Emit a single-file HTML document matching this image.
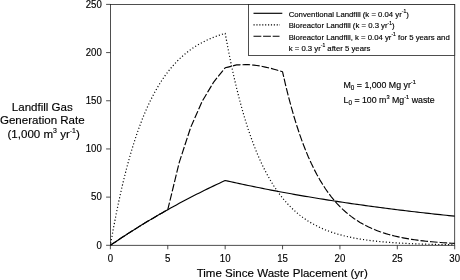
<!DOCTYPE html>
<html><head><meta charset="utf-8"><title>Landfill Gas Generation Rate</title>
<style>
html,body{margin:0;padding:0;background:#fff;}
svg{display:block;font-family:"Liberation Sans",Arial,sans-serif;fill:#000;}
.ax line,.ax rect{stroke:#222;stroke-width:0.8;fill:none;}
.tk text{font-size:10.2px;}
.lg text{font-size:7.75px;}
.an text{font-size:8.8px;}
.yt text{font-size:11.55px;}
.sup{font-size:64%;}
.sub{font-size:72%;}
.sup2{font-size:60%;}
text{stroke:#000;stroke-width:0.15px;}
</style></head><body>
<svg width="460" height="280" viewBox="0 0 460 280">
<rect width="460" height="280" fill="#fff"/>
<g class="ax">
<rect x="110.4" y="4.4" width="344.29999999999995" height="240.9"/>
<line x1="106.10" y1="245.30" x2="110.40" y2="245.30"/><line x1="106.10" y1="197.12" x2="110.40" y2="197.12"/><line x1="106.10" y1="148.94" x2="110.40" y2="148.94"/><line x1="106.10" y1="100.76" x2="110.40" y2="100.76"/><line x1="106.10" y1="52.58" x2="110.40" y2="52.58"/><line x1="106.10" y1="4.40" x2="110.40" y2="4.40"/><line x1="110.40" y1="245.30" x2="110.40" y2="249.30"/><line x1="167.78" y1="245.30" x2="167.78" y2="249.30"/><line x1="225.17" y1="245.30" x2="225.17" y2="249.30"/><line x1="282.55" y1="245.30" x2="282.55" y2="249.30"/><line x1="339.93" y1="245.30" x2="339.93" y2="249.30"/><line x1="397.32" y1="245.30" x2="397.32" y2="249.30"/><line x1="454.70" y1="245.30" x2="454.70" y2="249.30"/>
</g>
<g fill="none" stroke="#000" stroke-width="1.15" stroke-linejoin="round">
<path d="M110.40,245.30 L113.27,243.34 L116.14,241.41 L119.01,239.49 L121.88,237.59 L124.75,235.71 L127.62,233.85 L130.48,232.01 L133.35,230.18 L136.22,228.38 L139.09,226.59 L141.96,224.82 L144.83,223.07 L147.70,221.33 L150.57,219.62 L153.44,217.92 L156.31,216.23 L159.18,214.56 L162.05,212.91 L164.91,211.28 L167.78,209.66 L170.65,208.06 L173.52,206.48 L176.39,204.91 L179.26,203.35 L182.13,201.81 L185.00,200.29 L187.87,198.78 L190.74,197.29 L193.61,195.81 L196.47,194.34 L199.34,192.90 L202.21,191.46 L205.08,190.04 L207.95,188.63 L210.82,187.24 L213.69,185.86 L216.56,184.50 L219.43,183.15 L222.30,181.81 L225.17,180.48 L228.04,181.13 L230.90,181.77 L233.77,182.40 L236.64,183.03 L239.51,183.65 L242.38,184.26 L245.25,184.87 L248.12,185.47 L250.99,186.06 L253.86,186.65 L256.73,187.24 L259.60,187.81 L262.47,188.39 L265.33,188.95 L268.20,189.51 L271.07,190.07 L273.94,190.62 L276.81,191.16 L279.68,191.70 L282.55,192.23 L285.42,192.76 L288.29,193.28 L291.16,193.80 L294.03,194.31 L296.90,194.82 L299.76,195.32 L302.63,195.82 L305.50,196.31 L308.37,196.80 L311.24,197.28 L314.11,197.76 L316.98,198.23 L319.85,198.70 L322.72,199.17 L325.59,199.63 L328.46,200.08 L331.33,200.53 L334.19,200.98 L337.06,201.42 L339.93,201.85 L342.80,202.29 L345.67,202.71 L348.54,203.14 L351.41,203.56 L354.28,203.97 L357.15,204.38 L360.02,204.79 L362.89,205.19 L365.76,205.59 L368.62,205.99 L371.49,206.38 L374.36,206.77 L377.23,207.15 L380.10,207.53 L382.97,207.90 L385.84,208.28 L388.71,208.65 L391.58,209.01 L394.45,209.37 L397.32,209.73 L400.19,210.08 L403.05,210.43 L405.92,210.78 L408.79,211.12 L411.66,211.46 L414.53,211.80 L417.40,212.13 L420.27,212.46 L423.14,212.79 L426.01,213.11 L428.88,213.43 L431.75,213.75 L434.62,214.07 L437.49,214.38 L440.35,214.68 L443.22,214.99 L446.09,215.29 L448.96,215.59 L451.83,215.88 L454.70,216.18"/>
<path d="M110.40,245.30 L113.27,229.18 L116.14,214.23 L119.01,200.35 L121.88,187.48 L124.75,175.54 L127.62,164.47 L130.48,154.19 L133.35,144.65 L136.22,135.81 L139.09,127.60 L141.96,119.99 L144.83,112.92 L147.70,106.37 L150.57,100.29 L153.44,94.65 L156.31,89.42 L159.18,84.56 L162.05,80.06 L164.91,75.88 L167.78,72.00 L170.65,68.41 L173.52,65.07 L176.39,61.97 L179.26,59.10 L182.13,56.44 L185.00,53.97 L187.87,51.67 L190.74,49.55 L193.61,47.57 L196.47,45.74 L199.34,44.04 L202.21,42.47 L205.08,41.00 L207.95,39.65 L210.82,38.39 L213.69,37.22 L216.56,36.14 L219.43,35.13 L222.30,34.20 L225.17,33.33 L228.04,48.65 L230.90,62.86 L233.77,76.04 L236.64,88.27 L239.51,99.62 L242.38,110.15 L245.25,119.91 L248.12,128.97 L250.99,137.38 L253.86,145.17 L256.73,152.41 L259.60,159.12 L262.47,165.35 L265.33,171.13 L268.20,176.48 L271.07,181.46 L273.94,186.07 L276.81,190.35 L279.68,194.32 L282.55,198.00 L285.42,201.42 L288.29,204.59 L291.16,207.53 L294.03,210.26 L296.90,212.79 L299.76,215.14 L302.63,217.32 L305.50,219.34 L308.37,221.22 L311.24,222.96 L314.11,224.57 L316.98,226.07 L319.85,227.46 L322.72,228.75 L325.59,229.95 L328.46,231.05 L331.33,232.08 L334.19,233.04 L337.06,233.92 L339.93,234.75 L342.80,235.51 L345.67,236.22 L348.54,236.87 L351.41,237.48 L354.28,238.05 L357.15,238.57 L360.02,239.06 L362.89,239.51 L365.76,239.93 L368.62,240.32 L371.49,240.68 L374.36,241.01 L377.23,241.32 L380.10,241.61 L382.97,241.87 L385.84,242.12 L388.71,242.35 L391.58,242.56 L394.45,242.76 L397.32,242.95 L400.19,243.12 L403.05,243.27 L405.92,243.42 L408.79,243.56 L411.66,243.68 L414.53,243.80 L417.40,243.91 L420.27,244.01 L423.14,244.10 L426.01,244.19 L428.88,244.27 L431.75,244.34 L434.62,244.41 L437.49,244.48 L440.35,244.54 L443.22,244.59 L446.09,244.64 L448.96,244.69 L451.83,244.73 L454.70,244.77" stroke-dasharray="1.1 2.18" stroke-dashoffset="1.35" stroke-width="1.2"/>
<path d="M110.40,245.30 L113.27,243.37 L116.14,241.45 L119.01,239.52 L121.88,237.59 L124.75,235.74 L127.62,233.89 L130.48,232.04 L133.35,230.18 L136.22,228.41 L139.09,226.63 L141.96,224.85 L144.83,223.07 L147.70,221.36 L150.57,219.65 L153.44,217.94 L156.31,216.23 L159.18,214.59 L162.05,212.95 L164.91,211.30 L167.78,209.66 L170.65,197.83 L173.52,185.99 L176.39,174.16 L179.26,162.33 L182.13,153.56 L185.00,144.79 L187.87,136.03 L190.74,127.26 L193.61,120.76 L196.47,114.27 L199.34,107.78 L202.21,101.28 L205.08,96.47 L207.95,91.66 L210.82,86.85 L213.69,82.04 L216.56,78.47 L219.43,74.91 L222.30,71.34 L225.17,67.78 L228.04,67.07 L230.90,66.35 L233.77,65.64 L236.64,64.93 L239.51,64.82 L242.38,64.72 L245.25,64.61 L248.12,64.51 L250.99,64.84 L253.86,65.17 L256.73,65.50 L259.60,65.83 L262.47,66.46 L265.33,67.10 L268.20,67.73 L271.07,68.37 L273.94,69.22 L276.81,70.06 L279.68,70.91 L282.55,71.76 L285.42,84.30 L288.29,95.93 L291.16,106.72 L294.03,116.74 L296.90,126.03 L299.76,134.64 L302.63,142.64 L305.50,150.06 L308.37,156.94 L311.24,163.32 L314.11,169.25 L316.98,174.74 L319.85,179.84 L322.72,184.57 L325.59,188.96 L328.46,193.03 L331.33,196.81 L334.19,200.31 L337.06,203.56 L339.93,206.58 L342.80,209.38 L345.67,211.97 L348.54,214.38 L351.41,216.61 L354.28,218.69 L357.15,220.61 L360.02,222.39 L362.89,224.05 L365.76,225.58 L368.62,227.01 L371.49,228.33 L374.36,229.56 L377.23,230.69 L380.10,231.75 L382.97,232.73 L385.84,233.64 L388.71,234.48 L391.58,235.26 L394.45,235.99 L397.32,236.66 L400.19,237.28 L403.05,237.86 L405.92,238.40 L408.79,238.90 L411.66,239.36 L414.53,239.79 L417.40,240.19 L420.27,240.56 L423.14,240.90 L426.01,241.22 L428.88,241.51 L431.75,241.79 L434.62,242.04 L437.49,242.28 L440.35,242.49 L443.22,242.70 L446.09,242.89 L448.96,243.06 L451.83,243.22 L454.70,243.37" stroke-dasharray="7.6 2"/>
</g>
<g class="tk"><text transform="translate(101.8,248.55) scale(0.945,1)" text-anchor="end">0</text><text transform="translate(101.8,200.37) scale(0.945,1)" text-anchor="end">50</text><text transform="translate(101.8,152.19) scale(0.945,1)" text-anchor="end">100</text><text transform="translate(101.8,104.01) scale(0.945,1)" text-anchor="end">150</text><text transform="translate(101.8,55.83) scale(0.945,1)" text-anchor="end">200</text><text transform="translate(101.8,7.65) scale(0.945,1)" text-anchor="end">250</text><text transform="translate(110.40,262.1) scale(0.945,1)" text-anchor="middle">0</text><text transform="translate(167.78,262.1) scale(0.945,1)" text-anchor="middle">5</text><text transform="translate(225.17,262.1) scale(0.945,1)" text-anchor="middle">10</text><text transform="translate(282.55,262.1) scale(0.945,1)" text-anchor="middle">15</text><text transform="translate(339.93,262.1) scale(0.945,1)" text-anchor="middle">20</text><text transform="translate(397.32,262.1) scale(0.945,1)" text-anchor="middle">25</text><text transform="translate(454.70,262.1) scale(0.945,1)" text-anchor="middle">30</text></g>
<g class="yt" text-anchor="middle">
<text x="42.3" y="110.6">Landfill Gas</text>
<text x="42.3" y="124.3">Generation Rate</text>
<text x="7.5" y="138" text-anchor="start">(1,000 m<tspan class="sup2" dy="-5.3">3</tspan><tspan dy="5.3"> yr</tspan><tspan class="sup2" dy="-5.3">-1</tspan><tspan dy="5.3">)</tspan></text>
</g>
<text x="282.2" y="277.2" text-anchor="middle" font-size="11.55">Time Since Waste Placement (yr)</text>
<g class="lg">
<rect x="248.5" y="4.4" width="206.2" height="51" fill="#fff" stroke="#222" stroke-width="0.8"/>
<line x1="253.5" y1="13.3" x2="282.3" y2="13.3" stroke="#000" stroke-width="1.15"/>
<line x1="253.5" y1="24.8" x2="280" y2="24.8" stroke="#000" stroke-width="1.25" stroke-dasharray="1.15 1.75"/>
<line x1="253.5" y1="36.2" x2="279.5" y2="36.2" stroke="#000" stroke-width="1.15" stroke-dasharray="7.8 1.8"/>
<text x="288.7" y="16.7">Conventional Landfill (k = 0.04 yr<tspan class="sup" dy="-3.4">-1</tspan><tspan dy="3.4">)</tspan></text>
<text x="288.7" y="27.9">Bioreactor Landfill (k = 0.3 yr<tspan class="sup" dy="-3.4">-1</tspan><tspan dy="3.4">)</tspan></text>
<text x="288.7" y="39.5">Bioreactor Landfill, k = 0.04 yr<tspan class="sup" dy="-3.4">-1</tspan><tspan dy="3.4"> for 5 years and</tspan></text>
<text x="288.7" y="50.6">k = 0.3 yr<tspan class="sup" dy="-3.4">-1</tspan><tspan dy="3.4"> after 5 years</tspan></text>
</g>
<g class="an">
<text x="343.5" y="88.1">M<tspan class="sub" dy="2">0</tspan><tspan dy="-2"> = 1,000 Mg yr</tspan><tspan class="sup" dy="-4.3">-1</tspan></text>
<text x="343.5" y="103">L<tspan class="sub" dy="2">0</tspan><tspan dy="-2"> = 100 m</tspan><tspan class="sup" dy="-4.3">3</tspan><tspan dy="4.3"> Mg</tspan><tspan class="sup" dy="-4.3">-1</tspan><tspan dy="4.3"> waste</tspan></text>
</g>
</svg>
</body></html>
